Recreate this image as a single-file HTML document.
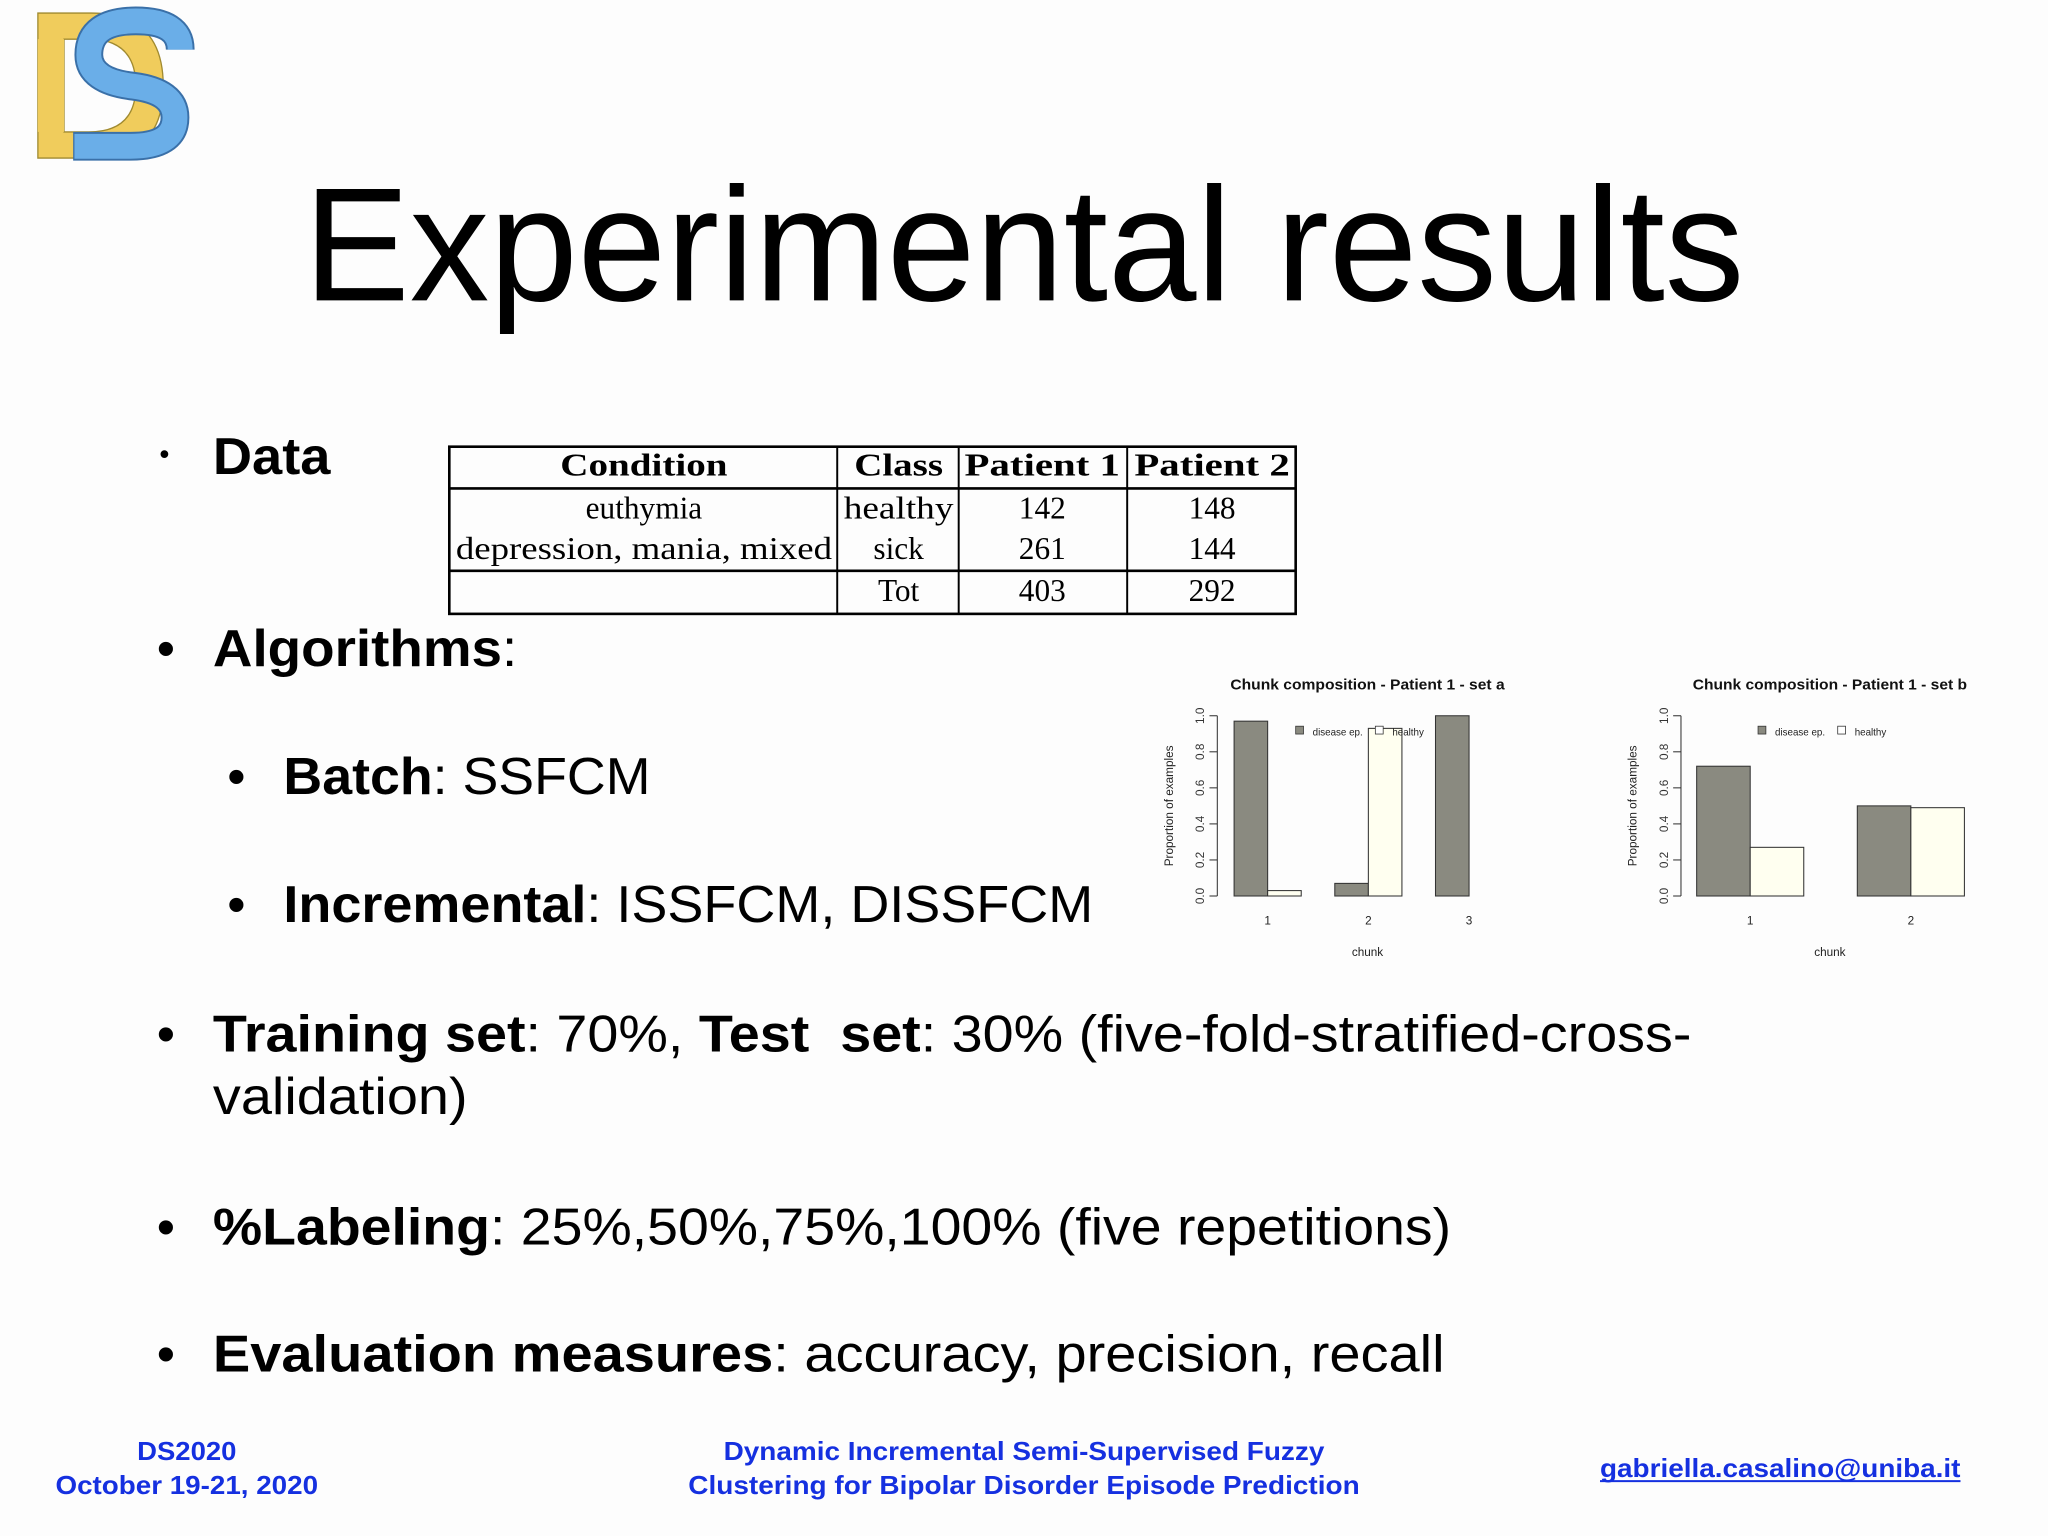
<!DOCTYPE html>
<html><head><meta charset="utf-8"><style>
html,body{margin:0;padding:0;background:#fdfdfd;}
svg{display:block;}
</style></head><body>
<svg id="slide" width="2048" height="1536" viewBox="0 0 1568 1176" xmlns="http://www.w3.org/2000/svg" font-family="'Liberation Sans', sans-serif">
<rect width="1568" height="1176" fill="#fdfdfd"/>
<g>
  <path d="M29,10 L70,10 Q125,10 125,66 Q125,121 70,121 L29,121 Z M49,30 L49,101 L68,101 Q104,101 104,66 Q104,30 68,30 Z" fill="#f0cc5c" stroke="#a08a30" stroke-width="1" fill-rule="evenodd"/>
  <path d="M138,38 Q138,16 104,16 Q68,16 68,42 Q68,62 102,66 Q134,70 134,90 Q134,112 100,112 L56,112" fill="none" stroke="#3a70a8" stroke-width="22"/>
  <path d="M138,38 Q138,16 104,16 Q68,16 68,42 Q68,62 102,66 Q134,70 134,90 Q134,112 100,112 L57,112" fill="none" stroke="#6aaee8" stroke-width="19"/>
  <path d="M49,30 L49,101" stroke="#f0cc5c" stroke-width="20" transform="translate(-10,0)"/>
</g>
<text x="784" y="230" text-anchor="middle" font-size="124" textLength="1103" lengthAdjust="spacingAndGlyphs" fill="#000">Experimental results</text>

<g fill="#000">
  <text x="122" y="355" font-size="22">•</text>
  <text x="163" y="363" font-size="40" font-weight="bold" textLength="90" lengthAdjust="spacingAndGlyphs">Data</text>
  <text x="120" y="510" font-size="40">•</text>
  <text x="163" y="510" font-size="40" textLength="233" lengthAdjust="spacingAndGlyphs"><tspan font-weight="bold">Algorithms</tspan>:</text>
  <text x="174" y="608" font-size="40">•</text>
  <text x="217" y="608" font-size="40" textLength="281" lengthAdjust="spacingAndGlyphs"><tspan font-weight="bold">Batch</tspan>: SSFCM</text>
  <text x="174" y="706" font-size="40">•</text>
  <text x="217" y="706" font-size="40" textLength="620" lengthAdjust="spacingAndGlyphs"><tspan font-weight="bold">Incremental</tspan>: ISSFCM, DISSFCM</text>
  <text x="120" y="805" font-size="40">•</text>
  <text x="163" y="805" font-size="40" textLength="1132" lengthAdjust="spacingAndGlyphs" xml:space="preserve"><tspan font-weight="bold">Training set</tspan>: 70%, <tspan font-weight="bold">Test  set</tspan>: 30% (five-fold-stratified-cross-</text>
  <text x="163" y="853" font-size="40" textLength="195" lengthAdjust="spacingAndGlyphs">validation)</text>
  <text x="120" y="953" font-size="40">•</text>
  <text x="163" y="953" font-size="40" textLength="948" lengthAdjust="spacingAndGlyphs"><tspan font-weight="bold">%Labeling</tspan>: 25%,50%,75%,100% (five repetitions)</text>
  <text x="120" y="1050" font-size="40">•</text>
  <text x="163" y="1050" font-size="40" textLength="943" lengthAdjust="spacingAndGlyphs"><tspan font-weight="bold">Evaluation measures</tspan>: accuracy, precision, recall</text>
</g>

<g font-family="'Liberation Serif', serif" font-size="24" fill="#000" text-anchor="middle">
  <rect x="344" y="342" width="648" height="128" fill="none" stroke="#000" stroke-width="2"/>
  <line x1="344" y1="374" x2="992" y2="374" stroke="#000" stroke-width="2"/>
  <line x1="344" y1="437" x2="992" y2="437" stroke="#000" stroke-width="2"/>
  <line x1="641" y1="342" x2="641" y2="470" stroke="#000" stroke-width="1.5"/>
  <line x1="734" y1="342" x2="734" y2="470" stroke="#000" stroke-width="1.5"/>
  <line x1="863" y1="342" x2="863" y2="470" stroke="#000" stroke-width="1.5"/>
  <g font-weight="bold">
    <text x="493" y="364" textLength="128" lengthAdjust="spacingAndGlyphs">Condition</text><text x="688" y="364" textLength="68" lengthAdjust="spacingAndGlyphs">Class</text>
    <text x="798" y="364" textLength="119" lengthAdjust="spacingAndGlyphs">Patient 1</text><text x="928" y="364" textLength="119" lengthAdjust="spacingAndGlyphs">Patient 2</text>
  </g>
  <text x="493" y="397">euthymia</text><text x="688" y="397" textLength="84" lengthAdjust="spacingAndGlyphs">healthy</text><text x="798" y="397">142</text><text x="928" y="397">148</text>
  <text x="493" y="428" textLength="288" lengthAdjust="spacingAndGlyphs">depression, mania, mixed</text><text x="688" y="428">sick</text><text x="798" y="428">261</text><text x="928" y="428">144</text>
  <text x="688" y="460">Tot</text><text x="798" y="460">403</text><text x="928" y="460">292</text>
</g>

<g id="charts"></g>

<g fill="#1530e0" font-size="20" font-weight="bold" text-anchor="middle">
  <text x="143" y="1118" textLength="76" lengthAdjust="spacingAndGlyphs">DS2020</text>
  <text x="143" y="1144" textLength="201" lengthAdjust="spacingAndGlyphs">October 19-21, 2020</text>
  <text x="784" y="1118" textLength="460" lengthAdjust="spacingAndGlyphs">Dynamic Incremental Semi-Supervised Fuzzy</text>
  <text x="784" y="1144" textLength="514" lengthAdjust="spacingAndGlyphs">Clustering for Bipolar Disorder Episode Prediction</text>
  <text x="1225" y="1131" text-anchor="start" textLength="276" lengthAdjust="spacingAndGlyphs">gabriella.casalino@uniba.it</text>
  <line x1="1225" y1="1134" x2="1501" y2="1134" stroke="#1530e0" stroke-width="1.5"/>
</g>
</svg>
<script>
const chunksA = ["1","2","3"];
const diseaseA = [0.97, 0.07, 1.0];
const healthyA = [0.03, 0.93, 0.0];
const chunksB = ["1","2"];
const diseaseB = [0.72, 0.50];
const healthyB = [0.27, 0.49];
const yTicks = [0.0, 0.2, 0.4, 0.6, 0.8, 1.0];
const yTickLabels = ["0.0","0.2","0.4","0.6","0.8","1.0"];

const NS = "http://www.w3.org/2000/svg";
function mk(tag, attrs, parent, txt){
  const e = document.createElementNS(NS, tag);
  for (const k in attrs) e.setAttribute(k, attrs[k]);
  if (txt !== undefined) e.textContent = txt;
  parent.appendChild(e);
  return e;
}
function drawChart(cfg){
  const root = document.getElementById('charts');
  const g = mk('g', {}, root);
  
  
  const y = v => cfg.y0 - v * (cfg.y0 - cfg.y1);
  const n = cfg.cats.length;
  const groupX = i => cfg.x0 + cfg.bw * 0.5 + i * cfg.bw * 3;
  const t = mk('text', {x: cfg.cx, y: 528, 'text-anchor':'middle', 'font-size':11, 'font-weight':'bold', fill:'#111', textLength: 210, lengthAdjust:'spacingAndGlyphs'}, g, cfg.title);
  
  
  const ax = mk('g', {}, g);
  
  
  mk('line', {x1: cfg.ax, y1: y(0), x2: cfg.ax, y2: y(1), stroke:'#333', 'stroke-width':0.8}, ax);
  yTicks.forEach((v, i) => {
    mk('line', {x1: cfg.ax - 6, y1: y(v), x2: cfg.ax, y2: y(v), stroke:'#333', 'stroke-width':0.8}, ax);
    const lab = mk('text', {x: cfg.ax - 10, y: y(v), 'font-size':9, fill:'#333', 'text-anchor':'middle',
      transform: `rotate(-90 ${cfg.ax - 10} ${y(v)})`}, ax, yTickLabels[i]);
    
    
  });
  const yl = mk('text', {x: cfg.ax - 34, y: (y(0)+y(1))/2, 'font-size':9, fill:'#222', 'text-anchor':'middle',
    transform: `rotate(-90 ${cfg.ax - 34} ${(y(0)+y(1))/2})`}, g, 'Proportion of examples');
  
  
  for (let i = 0; i < n; i++){
    const gx = groupX(i);
    const r1 = mk('rect', {x: gx, y: y(cfg.d[i]), width: cfg.bw, height: y(0) - y(cfg.d[i]), fill:'#8a8a80', stroke:'#333', 'stroke-width':0.8}, g);
    
    
    const r2 = mk('rect', {x: gx + cfg.bw, y: y(cfg.h[i]), width: cfg.bw, height: y(0) - y(cfg.h[i]), fill:'#fffff0', stroke:'#333', 'stroke-width':0.8}, g);
    
    
    const xl = mk('text', {x: gx + cfg.bw, y: 708, 'text-anchor':'middle', 'font-size':9, fill:'#222'}, g, cfg.cats[i]);
    
    
  }
  const xt = mk('text', {x: cfg.cx, y: 732, 'text-anchor':'middle', 'font-size':9, fill:'#222'}, g, 'chunk');
  
  
  const lg = mk('g', {}, g);
  
  
  mk('rect', {x: cfg.lx, y: 556, width: 6, height: 6, fill:'#8a8a80', stroke:'#333', 'stroke-width':0.6}, lg);
  mk('text', {x: cfg.lx + 13, y: 563, 'font-size':7.5, fill:'#222'}, lg, 'disease ep.');
  mk('rect', {x: cfg.lx + 61, y: 556, width: 6, height: 6, fill:'#fff', stroke:'#333', 'stroke-width':0.6}, lg);
  mk('text', {x: cfg.lx + 74, y: 563, 'font-size':7.5, fill:'#222'}, lg, 'healthy');
}
drawChart({name:'chart-set-a', title:'Chunk composition - Patient 1 - set a', cats:chunksA, d:diseaseA, h:healthyA,
  x0:932, bw:25.7, ax:932, y0:686, y1:548, cx:1047, lx:992});
drawChart({name:'chart-set-b', title:'Chunk composition - Patient 1 - set b', cats:chunksB, d:diseaseB, h:healthyB,
  x0:1278.5, bw:41, ax:1287, y0:686, y1:548, cx:1401, lx:1346});
</script>
</body></html>
